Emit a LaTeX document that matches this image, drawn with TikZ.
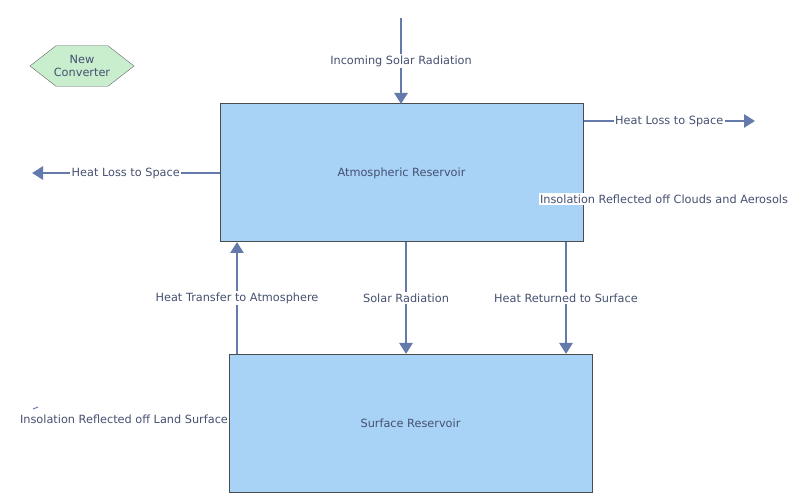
\documentclass[tikz,border=0pt]{standalone}
\usepackage{fontspec}
\setmainfont{DejaVu Sans}
\usetikzlibrary{shapes.geometric,arrows.meta}
\definecolor{ln}{RGB}{100,122,172}
\definecolor{bx}{RGB}{168,210,246}
\definecolor{tx}{RGB}{70,80,112}
\definecolor{hx}{RGB}{200,238,206}
\begin{document}
\begin{tikzpicture}[x=1pt,y=-1pt,
 box/.style={draw=black!70,fill=bx,line width=1pt,inner sep=0},
 flow/.style={draw=ln,line width=2.6pt,-{Triangle[length=11pt,width=13pt]}},
 fnt/.style={text=tx,font=\fontsize{11.3}{13}\selectfont},
 lab/.style={fnt,fill=white,inner sep=1.5pt}]
\useasboundingbox (0,0) rectangle (800,502);
\node[box,minimum width=363pt,minimum height=138pt] (atm) at (401.5,173) {};
\node[fnt] at (atm) {Atmospheric Reservoir};
\node[box,minimum width=363pt,minimum height=138pt] (sur) at (410.5,423) {};
\node[fnt] at (sur) {Surface Reservoir};
\node[regular polygon,regular polygon sides=6,draw=black!60,fill=hx,minimum width=104pt,inner sep=0,yscale=0.45] (hex) at (82,66) {};
\node[fnt,align=center] (hext) at (82,66) {New\\Converter};
\coordinate (inS) at (401,18);
\coordinate (outR) at (755,121);
\coordinate (outL) at (32,173);
\draw[flow] (inS) -- (401,104) node[lab,pos=0.5] {Incoming Solar Radiation};
\draw[flow] (atm.east |- outR) -- (outR) node[lab,pos=0.5] {Heat Loss to Space};
\draw[flow] (atm.west |- outL) -- (outL) node[lab,pos=0.5] {Heat Loss to Space};
\draw[flow] (237,354) -- (237,242) node[lab,pos=0.5] {Heat Transfer to Atmosphere};
\draw[flow] (406,242) -- (406,354) node[lab,pos=0.5] {Solar Radiation};
\draw[flow] (566,242) -- (566,354) node[lab,pos=0.5] {Heat Returned to Surface};
\node[lab] (icl) at (664,199) {Insolation Reflected off Clouds and Aerosols};
\node[lab] (ils) at (124,419) {Insolation Reflected off Land Surface};
\draw[ln,line width=1pt] (33,409) -- (38,407);
\end{tikzpicture}
\end{document}
